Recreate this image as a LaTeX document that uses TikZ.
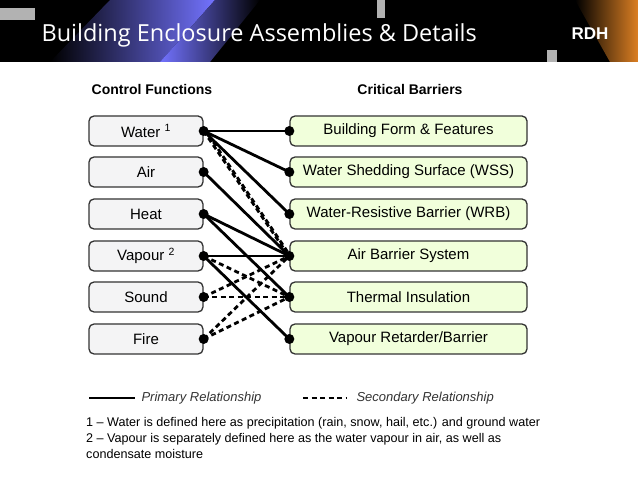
\documentclass[tikz,border=0pt]{standalone}
\usepackage{fontspec}
\setmainfont{Liberation Sans}
\newfontfamily\titlefont{Open Sans}
\begin{document}
\begin{tikzpicture}[x=1pt,y=-1pt,
  lbox/.style={draw=black!80,line width=1.3pt,rounded corners=5pt,fill=blue!6!gray!8!white,minimum width=114pt,minimum height=30pt,font=\fontsize{15}{17}\selectfont},
  rbox/.style={draw=black!80,line width=1.3pt,rounded corners=5pt,fill=green!40!yellow!14!white,minimum width=237pt,minimum height=30pt,font=\fontsize{15}{17}\selectfont},
  pri/.style={line width=2.8pt},
  sec/.style={line width=2.8pt,dash pattern=on 5pt off 3.5pt},
  dot/.style={circle,fill=black,inner sep=0pt,minimum size=10pt}]
\useasboundingbox (0,0) rectangle (638,478);
\fill[white] (0,0) rectangle (638,478);
\fill[black] (0,0) rectangle (638,62);
\shade[left color=black,right color=blue!55!white,shading angle=90] (50,62) -- (110,0) -- (215,0) -- (160,62) -- cycle;
\shade[left color=blue!55!white,right color=black] (160,62) -- (215,0) -- (260,0) -- (210,62) -- cycle;
\shade[left color=black,right color=orange!45!brown] (575,0) -- (638,0) -- (638,62) -- (610,62) -- cycle;
\fill[gray!60] (0,8) rectangle (35,20);
\fill[gray!60] (377,0) rectangle (385,18);
\fill[gray!60] (547,50) rectangle (557,62);
\node[anchor=west,text=white,font=\titlefont\fontsize{23.5}{27}\selectfont] (title) at (38,35) {Building Enclosure Assemblies \& Details};
\node[text=white,font=\bfseries\fontsize{17}{20}\selectfont] (logo) at (590,34) {RDH};
\node[font=\bfseries\fontsize{14}{16}\selectfont] (hl) at (152,89) {Control Functions};
\node[font=\bfseries\fontsize{14}{16}\selectfont] (hr) at (410,89) {Critical Barriers};
\foreach \n/\t/\y in {l1/{Water \textsuperscript{1}}/131,l2/Air/172,l3/Heat/214,l4/{Vapour \textsuperscript{2}}/256,l5/Sound/297,l6/Fire/339}
  \node[lbox] (\n) at (146,\y) {\t};
\foreach \n/\t/\y in {r1/{Building Form \& Features}/131,r2/{Water Shedding Surface (WSS)}/172,r3/{Water-Resistive Barrier (WRB)}/214,r4/{Air Barrier System}/256,r5/{Thermal Insulation}/297,r6/{Vapour Retarder/Barrier}/339}
  \node[rbox] (\n) at (408.5,\y) {\t};
\foreach \i in {1,...,6}{
  \node[dot] (a\i) at (l\i.east) {};
  \node[dot] (b\i) at (r\i.west) {};}
\draw[pri] (a1.center) -- (b1.center);
\draw[pri] (a1.center) -- (b2.center);
\draw[pri] (a1.center) -- (b3.center);
\draw[sec] (a1.center) -- ([shift={(-6,-8)}]b4.center);
\draw[sec] ([shift={(5,4)}]a1.center) -- ([shift={(1,0)}]b4.center);
\draw[pri] (a2.center) -- (b4.center);
\draw[pri] (a3.center) -- (b4.center);
\draw[pri] (a3.center) -- (b5.center);
\draw[pri] (a4.center) -- (b4.center);
\draw[pri] (a4.center) -- (b6.center);
\draw[sec] (a4.center) -- (b5.center);
\draw[sec] (a5.center) -- (b4.center);
\draw[sec] (a5.center) -- (b5.center);
\draw[sec] (a6.center) -- (b4.center);
\draw[sec] (a6.center) -- (b5.center);
\coordinate (p1) at (89,398); \coordinate (p2) at (135,398);
\coordinate (s1) at (303,398); \coordinate (s2) at (347,398);
\draw[pri] (p1) -- (p2);
\draw[sec] (s1) -- (s2);
\node[anchor=west,font=\itshape\fontsize{13}{15}\selectfont,text=black!80] (pl) at (138,398) {Primary Relationship};
\node[anchor=west,font=\itshape\fontsize{13}{15}\selectfont,text=black!80] (sl) at (353,398) {Secondary Relationship};
\node[anchor=north west,align=left,inner sep=0pt,font=\fontsize{12.6}{16}\selectfont] (fn) at (86,417) {1 -- Water is defined here as precipitation (rain, snow, hail, etc.) and ground water\\2 -- Vapour is separately defined here as the water vapour in air, as well as\\condensate moisture};
\end{tikzpicture}
\end{document}
